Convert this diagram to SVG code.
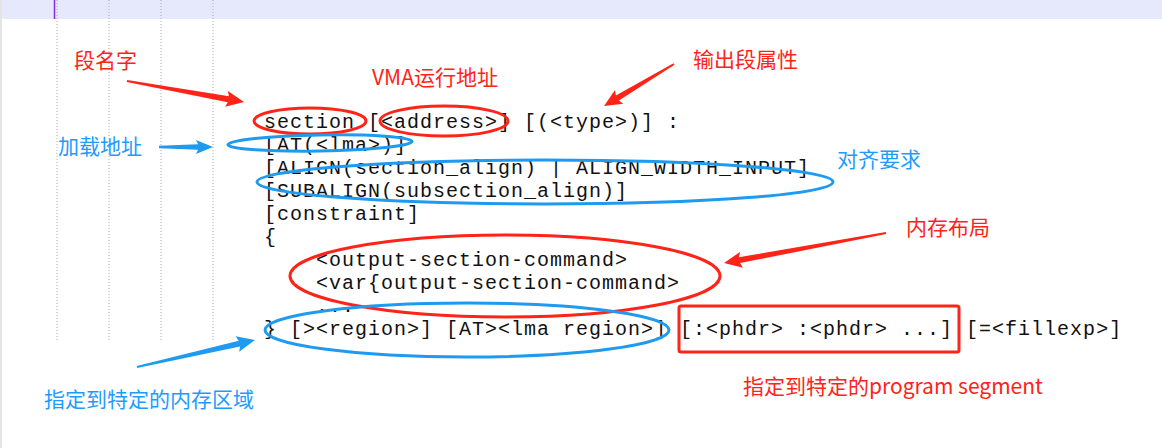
<svg xmlns="http://www.w3.org/2000/svg" width="1162" height="448" viewBox="0 0 1162 448">
<style>
.code{font-family:"Liberation Mono","Courier New",monospace;font-size:20px;letter-spacing:1px;fill:#111}
.lr{font-family:"Noto Sans CJK SC","Noto Sans",sans-serif;font-size:21px;fill:#ff2318}
.lb{font-family:"Noto Sans CJK SC","Noto Sans",sans-serif;font-size:21px;fill:#1e9bff}
.er{fill:none;stroke:#ff2318;stroke-width:3}
.eb{fill:none;stroke:#1e9bf0;stroke-width:3}
.dot{stroke:#aaaaaa;stroke-width:1;stroke-dasharray:1 2}
.ar{fill:#ff2318}
.ab{fill:#1e9bf0}
</style>
<rect x="0" y="0" width="1162" height="448" fill="#ffffff"/>
<rect x="0" y="0" width="2" height="448" fill="#e4e4e4"/>
<rect x="2" y="0" width="1160" height="19" fill="#e6e8fc"/>
<line x1="54.5" y1="0" x2="54.5" y2="19" stroke="#8a2be2" stroke-width="1.5"/>
<g id="guides">
<line class="dot" x1="57" y1="0" x2="57" y2="340"/>
<line class="dot" x1="109" y1="0" x2="109" y2="340"/>
<line class="dot" x1="161" y1="0" x2="161" y2="340"/>
<line class="dot" x1="213" y1="0" x2="213" y2="340"/>
</g>
<g id="code">
<text class="code" x="264" y="128">section [&lt;address&gt;] [(&lt;type&gt;)] :</text>
<text class="code" x="264" y="151">[AT(&lt;lma&gt;)]</text>
<text class="code" x="264" y="174">[ALIGN(section_align) | ALIGN_WIDTH_INPUT]</text>
<text class="code" x="264" y="197">[SUBALIGN(subsection_align)]</text>
<text class="code" x="264" y="220">[constraint]</text>
<text class="code" x="264" y="243">{</text>
<text class="code" x="316" y="266">&lt;output-section-command&gt;</text>
<text class="code" x="316" y="289">&lt;var{output-section-command&gt;</text>
<text class="code" x="316" y="312">...</text>
<text class="code" x="264" y="335">} [&gt;&lt;region&gt;] [AT&gt;&lt;lma region&gt;] [:&lt;phdr&gt; :&lt;phdr&gt; ...] [=&lt;fillexp&gt;]</text>
</g>
<g id="n-section"><ellipse class="er" cx="310" cy="121" rx="56" ry="13"/></g>
<g id="n-address"><ellipse class="er" cx="444" cy="121" rx="64" ry="15"/></g>
<g id="n-at"><ellipse class="eb" cx="320" cy="143" rx="92" ry="8" transform="rotate(-1 320 143)"/></g>
<g id="n-align"><ellipse class="eb" cx="545" cy="182" rx="288" ry="22"/></g>
<g id="n-output"><ellipse class="er" cx="505" cy="276" rx="215" ry="41"/></g>
<g id="n-region"><ellipse class="eb" cx="467" cy="330" rx="202" ry="27"/></g>
<g id="n-phdr"><rect class="er" x="679" y="306" width="280" height="46" rx="2"/></g>
<g id="labels">
<text class="lr" x="74" y="68">段名字</text>
<text class="lr" x="372" y="85">VMA运行地址</text>
<text class="lr" x="693" y="67">输出段属性</text>
<text class="lb" x="58" y="154">加载地址</text>
<text class="lb" x="837" y="167">对齐要求</text>
<text class="lr" x="906" y="235">内存布局</text>
<text class="lb" x="44" y="407">指定到特定的内存区域</text>
<text class="lr" x="743" y="394">指定到特定的program segment</text>
</g>
<g id="connectors">
<path class="ar" transform="translate(127 81) rotate(10.18)" d="M0,-1 L103,-3 L101,-8 L118.9,0 L101,8 L103,3 L0,1 Z"/>
<path class="ar" transform="translate(674 64) rotate(149.04)" d="M0,-1 L66,-3 L64,-8 L81.6,0 L64,8 L66,3 L0,1 Z"/>
<path class="ab" transform="translate(159 147) rotate(0)" d="M0,-1.2 L39,-2.8 L37,-7 L54,0 L37,7 L39,2.8 L0,1.2 Z"/>
<path class="ar" transform="translate(886 233) rotate(169.51)" d="M0,-1 L149,-3 L147,-8 L164.7,0 L147,8 L149,3 L0,1 Z"/>
<path class="ab" transform="translate(137 367) rotate(-12.89)" d="M0,-1 L105,-3 L103,-8 L121,0 L103,8 L105,3 L0,1 Z"/>
</g>
</svg>
